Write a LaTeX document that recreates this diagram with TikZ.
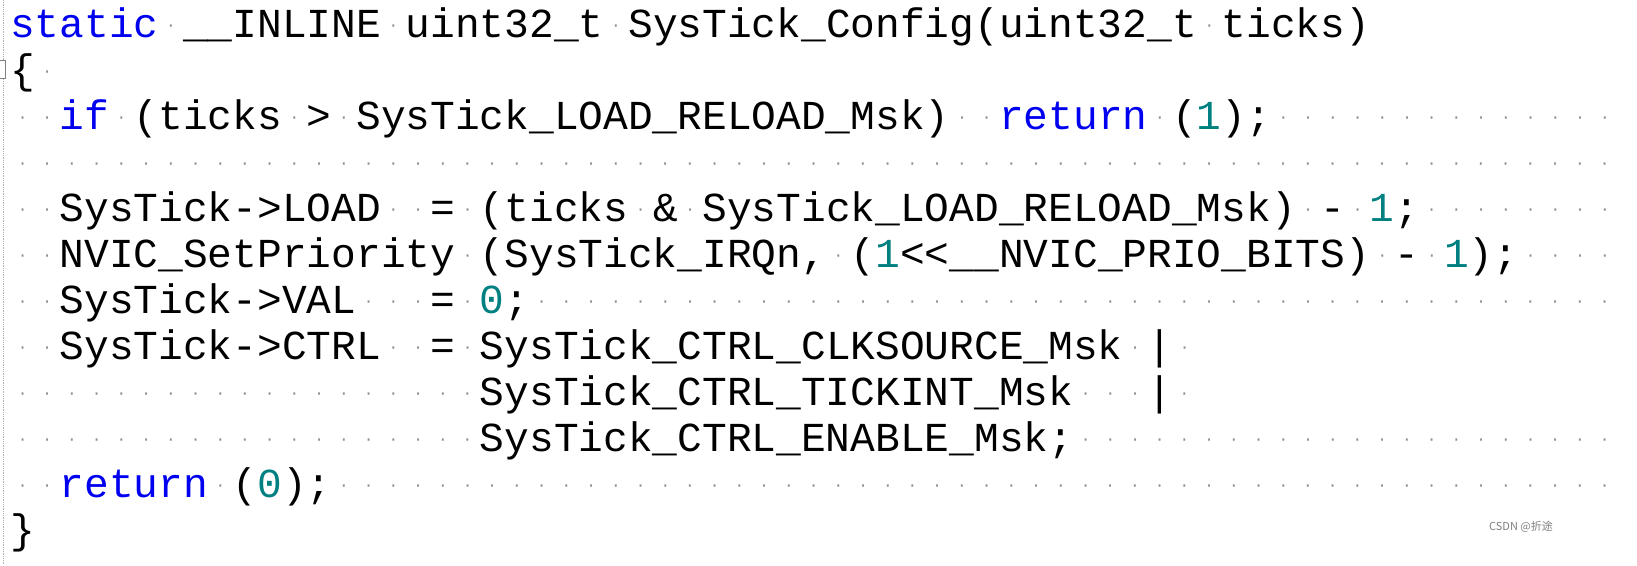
\documentclass[tikz,border=0pt]{standalone}
\usepackage{fontspec}
\setmonofont{Liberation Mono}
\newfontfamily\cjk{Noto Sans CJK SC}
\definecolor{kw}{RGB}{0,0,240}
\definecolor{num}{RGB}{0,128,128}
\definecolor{dotc}{RGB}{140,140,140}
\newcommand\Dt{\makebox[24.72pt]{\raisebox{7pt}{\fontsize{16}{16}\selectfont\textcolor{dotc}{·}}}}
\newcommand\Dots[1]{\foreach\i in{1,...,#1}{\Dt}}
\newcommand\K[1]{\textcolor{kw}{#1}}
\newcommand\N[1]{\textcolor{num}{#1}}
\begin{document}
\begin{tikzpicture}[x=1pt,y=-1pt,
  code/.style={anchor=base west,inner sep=0pt,font=\fontsize{41.2}{46}\ttfamily,text=black}]
\useasboundingbox (0,0) rectangle (1637,565);
\fill[white] (0,0) rectangle (1637,565);
\draw[gray!60,densely dotted,line width=0.8pt] (3,0) -- (3,565);
\draw[gray,fill=white,line width=0.8pt] (-1,60) rectangle (5,78);
\node[code] (l1) at (10,37) {\K{static}\Dt\_\_INLINE\Dt uint32\_t\Dt SysTick\_Config(uint32\_t\Dt ticks)};
\node[code] (l2) at (10,83) {\{\Dt};
\node[code] (l3) at (10,129) {\Dt\Dt\K{if}\Dt(ticks\Dt>\Dt SysTick\_LOAD\_RELOAD\_Msk)\Dt\Dt\K{return}\Dt(\N{1});\Dots{14}};
\node[code] (l4) at (10,175) {\Dots{65}};
\node[code] (l5) at (10,221) {\Dt\Dt SysTick->LOAD\Dt\Dt=\Dt(ticks\Dt\&\Dt SysTick\_LOAD\_RELOAD\_Msk)\Dt-\Dt\N{1};\Dots{8}};
\node[code] (l6) at (10,267) {\Dt\Dt NVIC\_SetPriority\Dt(SysTick\_IRQn,\Dt(\N{1}<<\_\_NVIC\_PRIO\_BITS)\Dt-\Dt\N{1});\Dots{4}};
\node[code] (l7) at (10,313) {\Dt\Dt SysTick->VAL\Dt\Dt\Dt=\Dt\N{0};\Dots{44}};
\node[code] (l8) at (10,359) {\Dt\Dt SysTick->CTRL\Dt\Dt=\Dt SysTick\_CTRL\_CLKSOURCE\_Msk\Dt|\Dt};
\node[code] (l9) at (10,405) {\Dots{19}SysTick\_CTRL\_TICKINT\_Msk\Dt\Dt\Dt|\Dt};
\node[code] (l10) at (10,451) {\Dots{19}SysTick\_CTRL\_ENABLE\_Msk;\Dots{22}};
\node[code] (l11) at (10,497) {\Dt\Dt\K{return}\Dt(\N{0});\Dots{52}};
\node[code] (l12) at (10,543) {\}};
\node[anchor=base east,inner sep=0pt,text=gray,font=\cjk\fontsize{11}{13}\selectfont] (wm) at (1553,530) {CSDN @折途};
\end{tikzpicture}
\end{document}
